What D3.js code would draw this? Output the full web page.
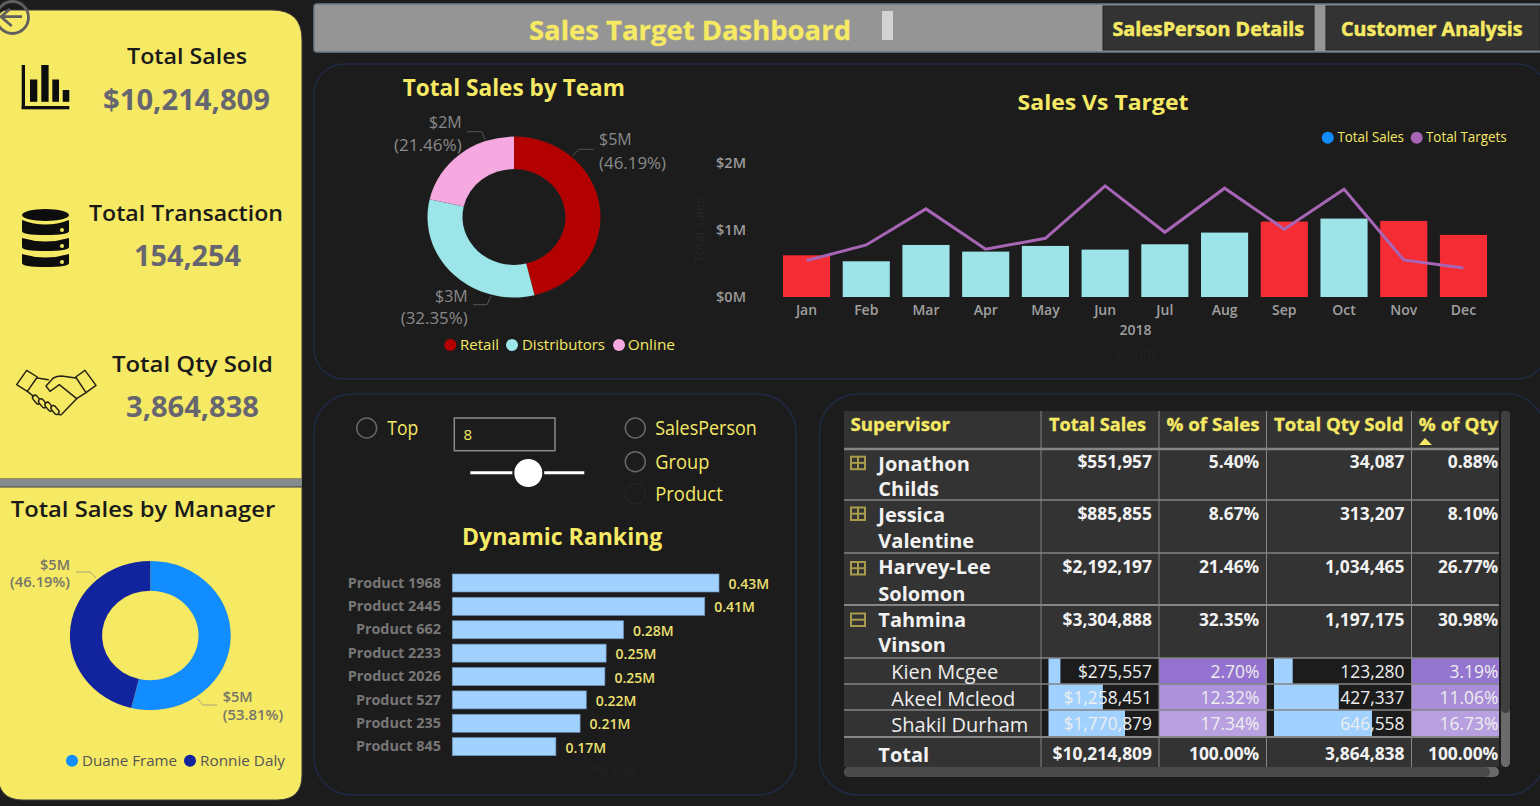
<!DOCTYPE html>
<html><head><meta charset="utf-8">
<script src="https://cdn.jsdelivr.net/npm/d3@7"></script>
<style>html,body{margin:0;padding:0;background:#1c1c1c;overflow:hidden}svg{display:block}text{font-family:"Open Sans","Noto Sans",sans-serif}</style>
</head><body><svg id="c" width="1540" height="806"></svg>
<script>
// ---- data ----
const months=["Jan","Feb","Mar","Apr","May","Jun","Jul","Aug","Sep","Oct","Nov","Dec"];
const salesM=[0.625,0.535,0.78,0.68,0.765,0.71,0.79,0.965,1.13,1.175,1.14,0.93];
const targetsM=[0.545,0.78,1.32,0.715,0.88,1.665,0.97,1.63,1.015,1.615,0.555,0.435];
const salesTicks=[0,1,2];
const teamNames=["Retail","Distributors","Online"];
const teamShare=[46.19,32.35,21.46];
const managerNames=["Duane Frame","Ronnie Daly"];
const managerShare=[53.81,46.19];
const products=["Product 1968","Product 2445","Product 662","Product 2233","Product 2026","Product 527","Product 235","Product 845"];
const productSalesM=[0.43,0.407,0.276,0.248,0.246,0.216,0.206,0.167];
const tableHeaders=["Supervisor","Total Sales","% of Sales","Total Qty Sold","% of Qty"];
const supervisorNames=[["Jonathon","Childs"],["Jessica","Valentine"],["Harvey-Lee","Solomon"],["Tahmina","Vinson"]];
const supervisorSales=[551957,885855,2192197,3304888];
const supervisorSalesPct=[5.40,8.67,21.46,32.35];
const supervisorQty=[34087,313207,1034465,1197175];
const supervisorQtyPct=[0.88,8.10,26.77,30.98];
const childNames=["Kien Mcgee","Akeel Mcleod","Shakil Durham"];
const childSales=[275557,1258451,1770879];
const childSalesPct=[2.70,12.32,17.34];
const childQty=[123280,427337,646558];
const childQtyPct=[3.19,11.06,16.73];
const totalSales=10214809, totalTransactions=154254, totalQty=3864838;

// ---- palette ----
const BG="#1c1c1c",Y="#f6e964",CELL="#333333",GRID="#858585",BAR="#a0d1ff";
const svg=d3.select("#c");
const money=d3.format("$,"),num=d3.format(","),pct=d=>d3.format(".2f")(d)+"%";

function T(g,x,y,s,o={}){
  const e=g.append("text").attr("x",x).attr("y",y).text(s)
    .attr("font-size",o.size||14).attr("font-weight",o.weight||400).attr("fill",o.fill||Y)
    .attr("text-anchor",o.anchor||"start");
  if(o.w) e.attr("textLength",o.w).attr("lengthAdjust","spacingAndGlyphs");
  if(o.heavy) e.attr("stroke",o.fill||Y).attr("stroke-width",o.heavy);
  return e;
}
svg.append("rect").attr("width",1540).attr("height",806).attr("fill",BG);

// ---- panels ----
svg.append("path").attr("fill",Y).attr("stroke","#3d3d3d")
  .attr("d","M-2,479V20Q-2,10 8,10H272Q302,10 302,40V479Z");
svg.append("rect").attr("x",0).attr("y",479).attr("width",302).attr("height",8).attr("fill","#858a8c");
svg.append("path").attr("fill",Y).attr("stroke","#3d3d3d")
  .attr("d","M-2,487H302V775Q302,800 277,800H23Q-2,800 -2,775Z");
const panel=(x,y,w,h,r)=>svg.append("rect").attr("x",x).attr("y",y).attr("width",w).attr("height",h).attr("rx",r)
  .attr("fill",BG).attr("stroke","#1f2a44").attr("stroke-width",1.5);
panel(314,64,1233,315,30);
panel(314,394,482,401,38);
panel(819.5,394,725.5,401,38);

// ---- top bar ----
svg.append("rect").attr("x",314).attr("y",4).attr("width",1240).attr("height",48).attr("rx",3)
  .attr("fill","#959595").attr("stroke","#6f7a88").attr("stroke-width",1.5);
T(svg,529,40,"Sales Target Dashboard",{size:27,weight:700,w:322,heavy:.3});
svg.append("rect").attr("x",882).attr("y",11).attr("width",11).attr("height",29).attr("fill","#d2d2d2");
[[1103,211,"SalesPerson Details",1112.5,191.5],[1326,214,"Customer Analysis",1341,181.5]].forEach(b=>{
  svg.append("rect").attr("x",b[0]).attr("y",6).attr("width",b[1]).attr("height",44).attr("fill","#333").attr("stroke","#222");
  T(svg,b[3],36,b[2],{size:19,weight:700,w:b[4],heavy:.5});
});

// ---- back arrow ----
const back=svg.append("g").attr("fill","none").attr("stroke","#5f5f5f").attr("stroke-width",2.8);
back.append("circle").attr("cx",12.5).attr("cy",17.5).attr("r",16);
back.append("path").attr("d","M22,16.7H1M10,9L1,16.7L11.7,26");

// ---- KPI cards ----
const K="#1a1a1a",V="#666670";
T(svg,127,64,"Total Sales",{size:22,weight:600,fill:K,w:120});
T(svg,103,110,money(totalSales),{size:28,weight:700,fill:V,w:167});
T(svg,89,220.7,"Total Transaction",{size:22,weight:600,fill:K,w:194});
T(svg,134,265.7,num(totalTransactions),{size:28,weight:700,fill:V,w:107});
T(svg,112,371.7,"Total Qty Sold",{size:22,weight:600,fill:K,w:161});
T(svg,126,416.7,num(totalQty),{size:28,weight:700,fill:V,w:133});

// icons (decorative)
const ic1=svg.append("g").attr("fill","#0d0d0d");
[[21.7,65,3.3,44],[21.7,106,47.6,3.3],[30,79.5,7.3,22.3],[41.3,65,7.3,36.8],[52.3,79.5,6.7,22.3],[62.7,90,6.6,11.8]]
  .forEach(r=>ic1.append("rect").attr("x",r[0]).attr("y",r[1]).attr("width",r[2]).attr("height",r[3]));
const ic2=svg.append("g").attr("fill","#0d0d0d");
ic2.append("ellipse").attr("cx",45.5).attr("cy",215).attr("rx",23.5).attr("ry",6);
[[222,234],[238,250],[254,266]].forEach((r,i)=>{
  ic2.append("path").attr("d",`M22,${r[0]-(i==0?2:0)}Q45.5,${r[0]+7} 69,${r[0]-(i==0?2:0)}V${r[1]-3}Q69,${r[1]+1} 45.5,${r[1]+1}Q22,${r[1]+1} 22,${r[1]-3}Z`);
  ic2.append("circle").attr("cx",62).attr("cy",r[0]+8).attr("r",2).attr("fill",Y);
});
const ic3=svg.append("g").attr("transform","translate(10,362) scale(0.3333)")
  .attr("fill","none").attr("stroke","#262316").attr("stroke-width",4.4).attr("stroke-linejoin","round").attr("stroke-linecap","round");
ic3.append("path").attr("d","M50,25L82,45L52,88L20,68Z");
ic3.append("path").attr("d","M225,25L258,70L228,92L197,45Z");
ic3.append("path").attr("d","M82,48L115,53");
ic3.append("path").attr("d","M197,48L155,42Q140,42 130,48L108,72L120,88L148,68L200,110");
ic3.append("path").attr("d","M52,88L72,104");
ic3.append("path").attr("d","M228,92L200,110L155,157Q150,160 144,156L132,148");
[[80,113],[98,124],[117,134],[135,144]].forEach(p=>ic3.append("rect").attr("x",p[0]-15).attr("y",p[1]-7.5).attr("width",30).attr("height",15).attr("rx",7.5)
  .attr("transform",`rotate(50 ${p[0]} ${p[1]})`).attr("fill",Y));

// ---- donut helper ----
function donut(cx,cy,rOuter,rInner,sy,values,colors){
  const pie=d3.pie().sort(null)(values);
  const arc=d3.arc().innerRadius(rInner).outerRadius(rOuter);
  svg.append("g").attr("transform",`translate(${cx},${cy}) scale(1,${sy})`)
    .selectAll("path").data(pie).join("path").attr("d",arc)
    .attr("fill",(d,i)=>colors[i]).attr("stroke","#66666622").attr("stroke-width",.5);
}
const leader=(pts,c)=>svg.append("path").attr("d",d3.line()(pts)).attr("fill","none").attr("stroke",c).attr("stroke-width",1);

// manager donut
T(svg,10.7,516.7,"Total Sales by Manager",{size:22,weight:600,fill:K,w:264.5});
const mColors=["#118dff","#12239e"];
donut(150.3,635.5,80.4,48.3,0.928,managerShare,mColors);
const mL="#77756a";
T(svg,70,570,"$5M",{size:14.5,weight:600,fill:mL,anchor:"end"});
T(svg,70,587,`(${pct(managerShare[1])})`,{size:14,weight:600,fill:mL,anchor:"end",w:60});
leader([[76,572],[90,572],[96,578]],"#a8a37a");
T(svg,222.7,702,"$5M",{size:14.5,weight:600,fill:mL});
T(svg,222.7,720,`(${pct(managerShare[0])})`,{size:14,weight:600,fill:mL,w:60.5});
leader([[197,698],[203,705],[217,705]],"#a8a37a");
[[72,82,95],[190,200,85]].forEach((p,i)=>{
  svg.append("circle").attr("cx",p[0]).attr("cy",760.7).attr("r",6).attr("fill",mColors[i]);
  T(svg,p[1],766,managerNames[i],{size:14.5,fill:"#555",w:p[2]});
});

// team donut
T(svg,402.7,96,"Total Sales by Team",{size:23,weight:700,w:222.3});
const tColors=["#b30000","#9ce5e9","#f5a9e0"];
donut(514,217,86.5,51.5,0.93,teamShare,tColors);
const tL="#8a8a8a",tLead="#555";
T(svg,599,145,"$5M",{size:16,fill:tL});
T(svg,599,169,`(${pct(teamShare[0])})`,{size:16,fill:tL,w:67});
leader([[572.7,155.7],[579,149.3],[594,149.3]],tLead);
T(svg,461.7,127.7,"$2M",{size:16,fill:tL,anchor:"end"});
T(svg,461.7,150.7,`(${pct(teamShare[2])})`,{size:16,fill:tL,anchor:"end",w:67.7});
leader([[467,131.7],[481.7,131.7],[485,139.3]],tLead);
T(svg,467.7,301.7,"$3M",{size:16,fill:tL,anchor:"end"});
T(svg,467.7,324,`(${pct(teamShare[1])})`,{size:16,fill:tL,anchor:"end",w:67});
leader([[473,304.7],[487,304.7],[491,296]],tLead);
[[450.3,460,39],[512,522,83],[619,627.7,47.3]].forEach((p,i)=>{
  svg.append("circle").attr("cx",p[0]).attr("cy",345).attr("r",6).attr("fill",tColors[i]);
  T(svg,p[1],350,teamNames[i],{size:15,w:p[2]});
});

// ---- Sales vs Target ----
T(svg,1017.6,109.6,"Sales Vs Target",{size:22,weight:700,w:171});
[[1327.8,"#118dff",1337.4,"Total Sales",66.6],[1416.7,"#a765b5",1426,"Total Targets",80.6]].forEach(l=>{
  svg.append("circle").attr("cx",l[0]).attr("cy",137.7).attr("r",6).attr("fill",l[1]);
  T(svg,l[2],142.3,l[3],{size:14,w:l[4]});
});
const xS=d3.scaleBand().domain(months).range([777,1493]).paddingInner(0.211).paddingOuter(0.1);
const yS=d3.scaleLinear().domain([0,2]).range([297,163.5]);
svg.append("g").attr("transform","translate(756,0)")
  .call(d3.axisLeft(yS).tickValues(salesTicks).tickSize(0).tickPadding(10).tickFormat(d=>`$${d}M`))
  .call(g=>g.select(".domain").remove())
  .call(g=>g.selectAll("text").attr("font-size",14.5).attr("font-weight",600).attr("fill","#9a9a9a").attr("font-family",'"Open Sans"').attr("dy","0.3em"));
svg.append("g").attr("transform","translate(0,297)")
  .call(d3.axisBottom(xS).tickSize(0).tickPadding(8))
  .call(g=>g.select(".domain").remove())
  .call(g=>g.selectAll("text").attr("font-size",14).attr("font-weight",600).attr("fill","#a0a0a0").attr("font-family",'"Open Sans"'));
svg.append("g").selectAll("rect").data(months).join("rect")
  .attr("x",d=>xS(d)).attr("width",xS.bandwidth())
  .attr("y",(d,i)=>yS(salesM[i])).attr("height",(d,i)=>yS(0)-yS(salesM[i]))
  .attr("fill",(d,i)=>salesM[i]>=targetsM[i]?"#f52c33":"#9de4e8");
svg.append("path").datum(targetsM)
  .attr("d",d3.line().x((d,i)=>xS(months[i])+xS.bandwidth()/2).y(d=>yS(d)))
  .attr("fill","none").attr("stroke","#a765b5").attr("stroke-width",3);
T(svg,1135.5,335,"2018",{size:14,weight:600,fill:"#a0a0a0",anchor:"middle"});
T(svg,1135.5,358,"Month",{size:13,fill:"#232323",anchor:"middle"});
T(svg,0,0,"Total Sales",{size:13,fill:"#272727",anchor:"middle"}).attr("transform","translate(704,230) rotate(-90)");

// ---- ranking panel ----
const radio=(x,y,c)=>svg.append("circle").attr("cx",x).attr("cy",y).attr("r",10).attr("fill","none").attr("stroke",c).attr("stroke-width",1.5);
radio(366.7,428,"#666");
T(svg,387.3,435,"Top",{size:20,w:31});
svg.append("rect").attr("x",454.3).attr("y",418).attr("width",100.7).attr("height",32.7).attr("fill","none").attr("stroke","#8a8a8a").attr("stroke-width",1.5);
T(svg,463.5,440,"8",{size:15});
svg.append("line").attr("x1",470.3).attr("x2",584.3).attr("y1",472.7).attr("y2",472.7).attr("stroke","#fff").attr("stroke-width",3);
svg.append("circle").attr("cx",528.3).attr("cy",473).attr("r",15).attr("fill","#fff").attr("stroke",BG).attr("stroke-width",2);
radio(635.3,428,"#666");radio(635.3,461.7,"#666");radio(635.3,494,"#242424");
T(svg,655.3,435,"SalesPerson",{size:20,w:101.4});
T(svg,655.3,469,"Group",{size:20,w:54});
T(svg,655.3,501,"Product",{size:20,w:67.4});
T(svg,462,545,"Dynamic Ranking",{size:23,weight:700,w:200.3});

const xR=d3.scaleLinear().domain([0,0.43]).range([452.3,719]);
const yR=d3.scaleBand().domain(products).range([571.66,758]).paddingInner(0.231).paddingOuter(0.1);
svg.append("g").attr("transform","translate(450,0)")
  .call(d3.axisLeft(yR).tickSize(0).tickPadding(9))
  .call(g=>g.select(".domain").remove())
  .call(g=>g.selectAll("text").attr("font-size",14.4).attr("font-weight",700).attr("fill","#777").attr("font-family",'"Open Sans"'));
svg.append("g").selectAll("rect").data(products).join("rect")
  .attr("x",xR(0)).attr("y",d=>yR(d)).attr("height",yR.bandwidth())
  .attr("width",(d,i)=>xR(productSalesM[i])-xR(0)).attr("fill",BAR).attr("stroke","#6f93b8").attr("stroke-width",.7);
svg.append("g").selectAll("text").data(products).join("text")
  .attr("x",(d,i)=>xR(productSalesM[i])+9.5).attr("y",d=>yR(d)+yR.bandwidth()/2+6)
  .text((d,i)=>d3.format(".2f")(productSalesM[i])+"M")
  .attr("font-size",14).attr("font-weight",600).attr("fill","#ece070");
T(svg,614,774,"Ranking",{size:12,fill:"#232323",anchor:"middle"});

// ---- matrix table ----
const cols=[844,1041,1159,1266.5,1411.5,1499];
const rights=[null,1152,1259.3,1404.5,1498.3];
const rowY=[411,449,500,553,605,658,684,710,737,767];
const tb=svg.append("g");
tb.append("rect").attr("x",844).attr("y",411).attr("width",655).attr("height",356).attr("fill",CELL);

// child-row cells
const barS=d3.scaleLinear().domain([0,d3.max(childSales)]).range([1048.5,1125]);
const barQ=d3.scaleLinear().domain([0,d3.max(childQty)]).range([1274,1372]);
const pctFill=d3.scaleLinear().domain([2.7,17.34]).range(["#9373cf","#b9a1e1"]);
childNames.forEach((n,i)=>{
  const y0=rowY[5+i],h=rowY[6+i]-y0;
  tb.append("rect").attr("x",cols[1]).attr("y",y0).attr("width",cols[2]-cols[1]).attr("height",h).attr("fill",BG);
  tb.append("rect").attr("x",cols[3]).attr("y",y0).attr("width",cols[4]-cols[3]).attr("height",h).attr("fill",BG);
  tb.append("rect").attr("x",barS(0)).attr("y",y0).attr("width",barS(childSales[i])-barS(0)).attr("height",h).attr("fill",BAR);
  tb.append("rect").attr("x",barQ(0)).attr("y",y0).attr("width",barQ(childQty[i])-barQ(0)).attr("height",h).attr("fill",BAR);
  tb.append("rect").attr("x",cols[2]).attr("y",y0).attr("width",cols[3]-cols[2]).attr("height",h).attr("fill",pctFill(childSalesPct[i]));
  tb.append("rect").attr("x",cols[4]).attr("y",y0).attr("width",cols[5]-cols[4]).attr("height",h).attr("fill",pctFill(childQtyPct[i]));
});
// grid
rowY.slice(1,-1).forEach((y,i)=>tb.append("line").attr("x1",844).attr("x2",1499).attr("y1",y).attr("y2",y)
  .attr("stroke",GRID).attr("stroke-width",i==0?2.5:(i==3||i==7?2:1.6)));
cols.slice(1,-1).forEach(x=>tb.append("line").attr("x1",x).attr("x2",x).attr("y1",411).attr("y2",767).attr("stroke",GRID).attr("stroke-width",1));

// header
[[850.6,99.4],[1049,97],[1166.4,93.3],[1274,129.5],[1418.8,79.5]].forEach((h,i)=>
  T(tb,h[0],430.7,tableHeaders[i],{size:18,weight:700,w:h[1],heavy:.3}));
tb.append("path").attr("d","M1419,445L1425,438L1432,445Z").attr("fill",Y);

// supervisors
const WT="#f2f2f2";
const nameBase=[[471,495.7],[522.3,548.3],[574.3,601],[626.7,652.3]];
const valBase=[468,520.3,573,625.6];
const iconY=[456.7,507.5,562,613.5];
supervisorNames.forEach((nm,i)=>{
  T(tb,878.3,nameBase[i][0],nm[0],{size:20,weight:700,fill:WT});
  T(tb,878.3,nameBase[i][1],nm[1],{size:20,weight:700,fill:WT});
  [money(supervisorSales[i]),pct(supervisorSalesPct[i]),num(supervisorQty[i]),pct(supervisorQtyPct[i])].forEach((s,j)=>
    T(tb,rights[j+1],valBase[i],s,{size:17.4,weight:700,fill:WT,anchor:"end"}));
  const g=tb.append("g").attr("fill","none").attr("stroke","#a89c4c").attr("stroke-width",2);
  g.append("rect").attr("x",851).attr("y",iconY[i]).attr("width",14).attr("height",12.5);
  g.append("line").attr("x1",851).attr("x2",865).attr("y1",iconY[i]+6.2).attr("y2",iconY[i]+6.2);
  if(i<3) g.append("line").attr("x1",858).attr("x2",858).attr("y1",iconY[i]).attr("y2",iconY[i]+12.5);
});
// children
const childName=[679.3,705.7,731.7],childVal=[677.6,703.6,730.3];
childNames.forEach((n,i)=>{
  T(tb,891.3,childName[i],n,{size:20,fill:"#eee"});
  [money(childSales[i]),pct(childSalesPct[i]),num(childQty[i]),pct(childQtyPct[i])].forEach((s,j)=>
    T(tb,rights[j+1],childVal[i],s,{size:17.4,fill:"#eee",anchor:"end"}));
});
// total
T(tb,878.3,761.7,"Total",{size:20,weight:700,fill:WT});
[money(totalSales),"100.00%",num(totalQty),"100.00%"].forEach((s,j)=>
  T(tb,rights[j+1],759.6,s,{size:17.4,weight:700,fill:WT,anchor:"end"}));
// scrollbars
svg.append("rect").attr("x",1501).attr("y",411).attr("width",9).attr("height",356).attr("rx",4.5).attr("fill","#6a6a6a");
svg.append("rect").attr("x",1501).attr("y",411).attr("width",9).attr("height",302).attr("rx",4.5).attr("fill","#3f3f3f");
svg.append("rect").attr("x",844).attr("y",767).attr("width",655).attr("height",10).attr("rx",5).attr("fill","#6a6a6a");
svg.append("rect").attr("x",844).attr("y",767).attr("width",646).attr("height",10).attr("rx",5).attr("fill","#4a4a4a");
</script></body></html>
